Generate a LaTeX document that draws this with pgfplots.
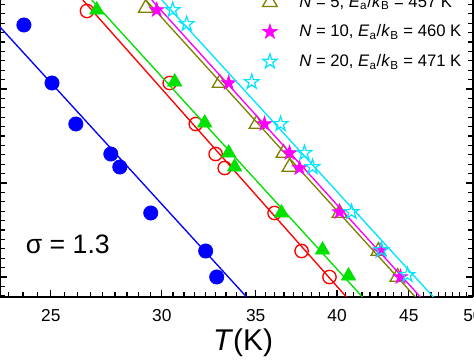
\documentclass[border=0pt]{standalone}
\usepackage{fontspec}
\setmainfont{Liberation Sans}
\usepackage{pgfplots}
\pgfplotsset{compat=1.18}
\definecolor{cblue}{RGB}{0,0,255}
\definecolor{cred}{RGB}{255,0,0}
\definecolor{cgreen}{RGB}{0,225,0}
\definecolor{colive}{RGB}{128,128,0}
\definecolor{cmag}{RGB}{255,0,255}
\definecolor{ccyan}{RGB}{0,230,255}
\pgfdeclareplotmark{fstar}{%
  \pgfpathmoveto{\pgfpointpolar{90}{\pgfplotmarksize}}%
  \pgfpathlineto{\pgfpointpolar{126}{0.382\pgfplotmarksize}}%
  \pgfpathlineto{\pgfpointpolar{162}{\pgfplotmarksize}}%
  \pgfpathlineto{\pgfpointpolar{198}{0.382\pgfplotmarksize}}%
  \pgfpathlineto{\pgfpointpolar{234}{\pgfplotmarksize}}%
  \pgfpathlineto{\pgfpointpolar{270}{0.382\pgfplotmarksize}}%
  \pgfpathlineto{\pgfpointpolar{306}{\pgfplotmarksize}}%
  \pgfpathlineto{\pgfpointpolar{342}{0.382\pgfplotmarksize}}%
  \pgfpathlineto{\pgfpointpolar{18}{\pgfplotmarksize}}%
  \pgfpathlineto{\pgfpointpolar{54}{0.382\pgfplotmarksize}}%
  \pgfpathclose
  \pgfusepathqfillstroke}
\pgfdeclareplotmark{ostar}{%
  \pgfpathmoveto{\pgfpointpolar{90}{\pgfplotmarksize}}%
  \pgfpathlineto{\pgfpointpolar{126}{0.382\pgfplotmarksize}}%
  \pgfpathlineto{\pgfpointpolar{162}{\pgfplotmarksize}}%
  \pgfpathlineto{\pgfpointpolar{198}{0.382\pgfplotmarksize}}%
  \pgfpathlineto{\pgfpointpolar{234}{\pgfplotmarksize}}%
  \pgfpathlineto{\pgfpointpolar{270}{0.382\pgfplotmarksize}}%
  \pgfpathlineto{\pgfpointpolar{306}{\pgfplotmarksize}}%
  \pgfpathlineto{\pgfpointpolar{342}{0.382\pgfplotmarksize}}%
  \pgfpathlineto{\pgfpointpolar{18}{\pgfplotmarksize}}%
  \pgfpathlineto{\pgfpointpolar{54}{0.382\pgfplotmarksize}}%
  \pgfpathclose
  \pgfusepathqstroke}
\begin{document}
\begin{tikzpicture}
\path[use as bounding box] (0,0) rectangle (355.5pt,270pt);
\begin{scope}
\clip (0,0) rectangle (355.5pt,270pt);
\begin{axis}[
  overlay,
  at={(0pt,47.25pt)}, anchor=south west,
  scale only axis, width=354.75pt, height=222.75pt,
  xmode=log, xmin=23, xmax=50, ymin=0, ymax=297,
  axis x line*=bottom, axis y line*=box,
  ytick pos=both,
  xtick={25,30,35,40,45,50}, xticklabels={25,30,35,40,45,50},
  minor xtick={23.3333,23.8889,...,50},
  ytick={20,114,208}, yticklabels={},
  minor ytick={1.2,10.6,...,297},
  tick align=inside,
  major tick length=5.25pt, minor tick length=3.4pt,
  every tick/.style={black, line width=0.9pt},
  axis line style={black, line width=1pt},
  xticklabel style={font=\fontsize{13}{15}\selectfont, yshift=-6pt},
  xlabel={\textit{T}(K)},
  xlabel style={font=\fontsize{22.5}{26}\selectfont, at={(axis description cs:0.514,0)}, anchor=north, yshift=-20pt},
  clip mode=individual,
  legend image code/.code={\path (0cm,0cm) (1.0cm,0cm);
    \draw[mark repeat=2,mark phase=2,#1] plot coordinates {(0cm,0cm) (0.3cm,0cm) (0.6cm,0cm)};},
  legend style={draw=none, fill=none, at={(axis description cs:0.537,1.035)}, anchor=north west,
    font=\fontsize{12.5}{15}\selectfont, row sep=7.7pt},
  legend cell align=left,
]
% blue
\addplot[cblue, line width=1pt, forget plot] coordinates {(23,270) (34.48,0)};
\addplot[only marks, mark=*, mark size=5.4pt, cblue, forget plot] coordinates {(23.92,272)(25.05,214)(26.05,173)(27.59,143)(28.00,130)(29.46,84)(32.24,46)(32.83,20)};
% red
\addplot[cred, line width=1pt, forget plot] coordinates {(26.35,297) (40.62,0)};
\addplot[only marks, mark=o, mark size=5pt, cred, mark options={line width=1pt}, forget plot] coordinates {(26.53,286)(30.39,214)(31.72,173)(32.77,143)(33.26,129)(36.10,84)(37.74,46)(39.51,20)};
% green
\addplot[cgreen, line width=1pt, forget plot] coordinates {(26.74,297) (41.70,0)};
\addplot[only marks, mark=triangle*, mark size=6.3pt, cgreen, forget plot] coordinates {(26.96,287)(30.64,215)(32.19,174)(33.48,144)(33.81,130)(36.52,84)(39.06,47)(40.76,21)};
% olive
\addplot[colive, line width=1pt, forget plot] coordinates {(29.22,297) (45.49,0)};
\addplot[only marks, mark=triangle, mark size=6.3pt, colive, mark options={line width=1pt}] coordinates {(29.22,289)(32.99,214)(35.05,173)(36.64,144)(37.00,130)(40.16,84)(42.81,46)(44.17,20)};
\addlegendentry{\textit{N} = 5, \textit{E}\textsubscript{a}/\textit{k}\textsubscript{B} = 457 K}
% magenta
\addplot[cmag, line width=1pt, forget plot] coordinates {(29.51,297) (45.86,0)};
\addplot[only marks, mark=fstar, mark size=5.8pt, cmag, mark options={line width=0.5pt}] coordinates {(29.75,287)(33.48,214)(35.51,173)(37.00,144)(37.61,129)(40.16,85)(42.95,46)(44.39,20)};
\addlegendentry{\textit{N} = 10, \textit{E}\textsubscript{a}/\textit{k}\textsubscript{B} = 460 K}
% cyan
\addplot[ccyan, line width=1pt, forget plot] coordinates {(30.00,297) (46.85,0)};
\addplot[only marks, mark=ostar, mark size=5.8pt, ccyan, mark options={line width=0.9pt}] coordinates {(30.54,287)(31.25,273)(34.77,215)(36.46,173)(37.92,144)(38.42,130)(40.96,85)(43.02,47)(44.90,22)};
\addlegendentry{\textit{N} = 20, \textit{E}\textsubscript{a}/\textit{k}\textsubscript{B} = 471 K}
\node[font=\fontsize{20}{24}\selectfont, anchor=base] at (axis cs:25.71,43) {σ = 1.3};
\end{axis}
\end{scope}
\end{tikzpicture}
\end{document}
